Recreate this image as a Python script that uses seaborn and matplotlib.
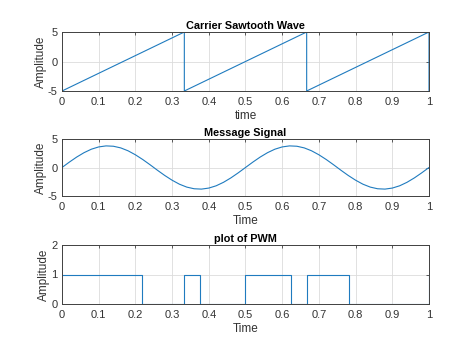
import matplotlib
matplotlib.use("Agg")
import matplotlib.pyplot as plt
import seaborn as sns
import pandas as pd

# ---- data ----
saw_t = [0.0, 1/3, 1/3, 2/3, 2/3, 1.0, 1.0]
saw_y = [-5, 5, -5, 5, -5, 5, -5]

msg_t = [i * 0.02 for i in range(51)]
msg_half = [0.0, 0.945, 1.83, 2.60, 3.21, 3.61, 3.79, 3.73, 3.44, 2.93, 2.23, 1.40, 0.48,
            -0.48, -1.40, -2.23, -2.93, -3.44, -3.73, -3.79, -3.61, -3.21, -2.60, -1.83, -0.945]
msg_y = msg_half + msg_half + [0.0]

pwm_t = [0.0, 0.218, 0.218, 1/3, 1/3, 0.376, 0.376, 0.5, 0.5, 0.625, 0.625, 2/3, 2/3,
         0.782, 0.782, 1.0, 1.0]
pwm_y = [1, 1, 0, 0, 1, 1, 0, 0, 1, 1, 0, 0, 1, 1, 0, 0, 1]

titles = ["Carrier Sawtooth Wave", "Message Signal", "plot of PWM"]
xlabels = ["time", "Time", "Time"]
ylabel = "Amplitude"
xticks = [0, 0.1, 0.2, 0.3, 0.4, 0.5, 0.6, 0.7, 0.8, 0.9, 1]
xticklabels = ["0", "0.1", "0.2", "0.3", "0.4", "0.5", "0.6", "0.7", "0.8", "0.9", "1"]
yticks_list = [[-5, 0, 5], [-5, 0, 5], [0, 1, 2]]
yticklabels_list = [["-5", "0", "5"], ["-5", "0", "5"], ["0", "1", "2"]]
ylims = [(-5, 5), (-5, 5), (0, 2)]

sns.set_style("white")
plt.rcParams["font.family"] = ["Liberation Sans", "DejaVu Sans"]

W, H = 474, 355
fig = plt.figure(figsize=(W / 100, H / 100), dpi=100)

# axes boxes in pixels: (left, top, right, bottom)
boxes = [(62, 32, 429, 91), (62, 139, 429, 196), (62, 245, 429, 304)]
series = [(saw_t, saw_y), (msg_t, msg_y), (pwm_t, pwm_y)]
color = "#1f7bbf"
textc = "#333333"

for i, ((l, t, r, b), (xs, ys)) in enumerate(zip(boxes, series)):
    ax = fig.add_axes([l / W, 1 - b / H, (r - l) / W, (b - t) / H])
    df = pd.DataFrame({"t": xs, "y": ys})
    sns.lineplot(data=df, x="t", y="y", ax=ax, sort=False, estimator=None,
                 color=color, linewidth=0.8)
    ax.set_xlim(0, 1)
    ax.set_ylim(*ylims[i])
    ax.set_xticks(xticks)
    ax.set_xticklabels(xticklabels)
    ax.set_yticks(yticks_list[i])
    ax.set_yticklabels(yticklabels_list[i])
    ax.grid(True, color="#dcdcdc", linewidth=0.6)
    ax.set_axisbelow(True)
    for s in ax.spines.values():
        s.set_color("#404040")
        s.set_linewidth(0.7)
    ax.tick_params(direction="in", length=2.5, width=0.6, labelsize=8,
                   colors="#404040", labelcolor=textc, top=True, right=True)
    ax.tick_params(axis="x", pad=4.5)
    ax.tick_params(axis="y", pad=3)
    ax.set_title(titles[i], fontsize=7.8, fontweight="bold", pad=2, color="black")
    ax.set_xlabel(xlabels[i], fontsize=8.5, labelpad=2, color=textc)
    ax.set_ylabel(ylabel, fontsize=8.5, labelpad=1, color=textc)

fig.savefig("out.png", dpi=100, facecolor="white")
